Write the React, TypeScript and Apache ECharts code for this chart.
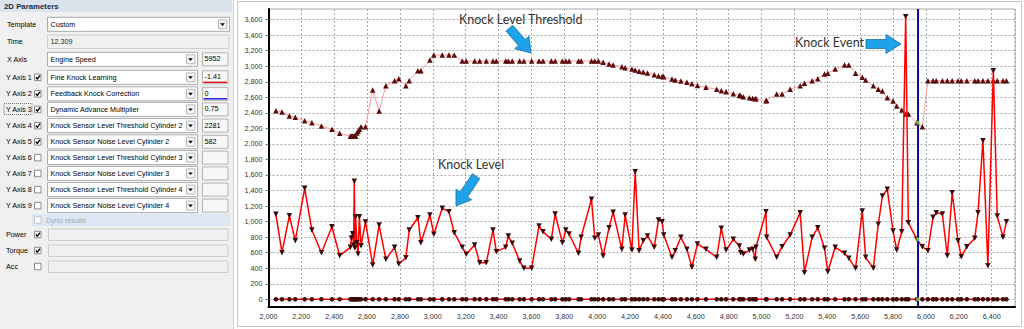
import React, { useEffect, useRef } from 'react';
import * as echarts from 'echarts';

// ---------- chart data (engine speed samples) ----------
const rpm = [2045,2082,2127,2163,2220,2264,2322,2386,2433,2498,
2505,2512,2518,2522,2526,2530,2538,2545,2553,2563,
2590,2634,2673,2714,2767,2793,2836,2856,2909,2927,
2982,3006,3057,3098,3130,3179,3203,3254,3285,3325,
3366,3386,3443,3459,3483,3528,3554,3601,3646,3670,
3721,3744,3788,3809,3829,3886,3902,3965,3985,4007,
4036,4072,4097,4150,4170,4211,4231,4255,4280,4306,
4347,4373,4395,4405,4455,4475,4509,4546,4576,4610,
4662,4727,4755,4784,4828,4865,4873,4889,4926,4946,
4962,4966,5027,5031,5092,5125,5174,5235,5261,5308,
5342,5383,5403,5448,5505,5531,5572,5613,5633,5680,
5710,5735,5765,5800,5822,5853,5877,5893,5945,5978,
6012,6043,6063,6100,6130,6160,6195,6215,6249,6297,
6317,6347,6377,6410,6434,6469,6490];

// Knock Sensor Level Threshold Cylinder 2
const threshold = [2427,2411,2359,2342,2299,2273,2230,2188,2136,2098,
2098,2098,2098,2098,2110,2098,2140,2162,2190,2221,
2221,2694,2423,2749,2814,2839,2749,2814,2942,2942,
3080,3144,3144,3144,3144,3067,3067,3067,3067,3067,
3067,3067,3067,3067,3067,3067,3067,3067,3067,3067,
3067,3067,3067,3067,3067,3067,3067,3067,3067,3067,
3050,3029,3016,2994,2981,2964,2951,2934,2925,2912,
2891,2874,2868,2865,2835,2822,2809,2793,2775,2752,
2728,2703,2685,2672,2646,2625,2620,2607,2595,2588,
2582,2580,2556,2560,2642,2642,2703,2749,2780,2813,
2839,2900,2909,2964,3016,3016,2909,2857,2822,2749,
2703,2680,2595,2552,2488,2436,2385,2385,2273,2221,
2814,2814,2814,2814,2814,2814,2814,2814,2814,2814,
2814,2814,2814,2814,2814,2814,2814];

// Knock Sensor Noise Level Cylinder 2
const noise = [1094,600,1076,754,1429,892,600,934,561,669,
790,845,700,1519,660,1061,728,583,1061,690,
995,441,956,515,669,454,535,892,1050,729,
1085,836,1171,1128,857,669,579,699,471,471,
892,613,669,815,721,493,399,399,943,870,
772,1098,729,892,840,592,798,1287,785,827,
557,922,1120,643,1085,634,1643,626,754,815,
669,1021,999,827,540,626,798,643,412,712,
643,540,913,634,772,686,600,583,634,643,
515,669,1128,798,540,677,827,1115,343,798,
922,656,355,669,592,528,399,1137,540,399,
965,1329,1416,879,634,870,3637,986,772,677,
626,1055,1115,1098,561,1372,754,548,677,785,
1115,2041,433,2942,1072,800,999];

// Feedback Knock Correction (flat at zero)
const knockCorrection = [0,0,0,0,0,0,0,0,0,0,
0,0,0,0,0,0,0,0,0,0, 0,0,0,0,0,0,0,0,0,0, 0,0,0,0,0,0,0,0,0,0,
0,0,0,0,0,0,0,0,0,0, 0,0,0,0,0,0,0,0,0,0, 0,0,0,0,0,0,0,0,0,0,
0,0,0,0,0,0,0,0,0,0, 0,0,0,0,0,0,0,0,0,0, 0,0,0,0,0,0,0,0,0,0,
0,0,0,0,0,0,0,0,0,0, 0,0,0,0,0,0,0,0,0,0, 0,0,0,0,0,0,0,0,0,0,
0,0,0,0,0,0,0];

const cursorRpm = 5952;
const cursorValues = [2273, 772, 0];

// ---------- panel texts ----------
const templateName = 'Custom';
const timeValue = '12.309';
const xAxisName = 'Engine Speed';
const xAxisValue = '5952';
const yAxisNames = [
  'Fine Knock Learning',
  'Feedback Knock Correction',
  'Dynamic Advance Multiplier',
  'Knock Sensor Level Threshold Cylinder 2',
  'Knock Sensor Noise Level Cylinder 2',
  'Knock Sensor Level Threshold Cylinder 3',
  'Knock Sensor Noise Level Cylinder 3',
  'Knock Sensor Level Threshold Cylinder 4',
  'Knock Sensor Noise Level Cylinder 4',
];
const yAxisValues = ['-1.41', '0', '0.75', '2281', '582', '', '', '', ''];
const yAxisChecked = [true, true, true, true, true, false, false, false, false];
const extraRows = ['Power', 'Torque', 'Acc'];
const extraChecked = [true, true, false];
const annotations = ['Knock Level Threshold', 'Knock Level', 'Knock Event'];

// ---------- helpers ----------
const UI_FONT = '7.2px "Liberation Sans", Arial, sans-serif';
const fmt = (v: number) => {
  const s = String(Math.abs(v));
  const r = s.replace(/\B(?=(\d{3})+(?!\d))/g, ',');
  return v < 0 ? '-' + r : r;
};

function txt(x: number, y: number, text: string, fill = '#000', font = UI_FONT, align = 'left', z = 5) {
  return { type: 'text', x, y, z, silent: true, style: { text, fill, font, align, verticalAlign: 'middle', textAlign: align, textVerticalAlign: 'middle' } };
}
function rect(x: number, y: number, w: number, h: number, fill: string, stroke?: string, lw = 1, z = 1, dash?: number[]) {
  return { type: 'rect', z, silent: true, shape: { x, y, width: w, height: h }, style: { fill, stroke: stroke || null, lineWidth: lw, lineDash: dash } };
}
function line(x1: number, y1: number, x2: number, y2: number, stroke: string, lw = 1, z = 2) {
  return { type: 'line', z, silent: true, shape: { x1, y1, x2, y2 }, style: { stroke, lineWidth: lw } };
}
function checkbox(x: number, yc: number, checked: boolean, disabled = false) {
  const els: any[] = [rect(x + 0.5, yc - 3.2, 6.5, 6.5, '#ffffff', disabled ? '#c4c4c4' : '#8a8a8a', 1, 3)];
  if (checked) {
    els.push({ type: 'polyline', z: 4, silent: true, shape: { points: [[x + 1.8, yc], [x + 3.3, yc + 1.7], [x + 6, yc - 1.9]] }, style: { stroke: '#000', lineWidth: 1.3, fill: null } });
  }
  return els;
}
function combo(x1: number, x2: number, yc: number, text: string) {
  const cx = x2 - 6.5;
  return [
    rect(x1 + 0.5, yc - 7, x2 - x1, 14, '#ffffff', '#a9abb0', 1, 2),
    txt(x1 + 3.5, yc, text),
    rect(x2 - 10.5, yc - 4.5, 8.5, 9, '#f4f4f4', '#b8b8b8', 1, 3),
    { type: 'polygon', z: 4, silent: true, shape: { points: [[cx - 2.3, yc - 1], [cx + 2.3, yc - 1], [cx, yc + 1.6]] }, style: { fill: '#000' } },
  ];
}
function valueBox(yc: number, text: string, underline?: string) {
  const els: any[] = [rect(202.5, yc - 6.5, 25.5, 13, '#f7f7f7', '#b4b4b4', 1, 2), txt(204.5, yc - 0.5, text)];
  if (underline) els.push(line(203.5, yc + 5, 227, yc + 5, underline, 1.3, 4));
  return els;
}
function arrow(tx: number, ty: number, angDeg: number, len: number, shaftW: number, headW: number, headL: number) {
  const a = (angDeg * Math.PI) / 180;
  const ux = Math.cos(a), uy = Math.sin(a);
  const px = -uy, py = ux;
  const bx = tx - ux * len, by = ty - uy * len;
  const hx = tx - ux * headL, hy = ty - uy * headL;
  const pts = [
    [bx + (px * shaftW) / 2, by + (py * shaftW) / 2],
    [hx + (px * shaftW) / 2, hy + (py * shaftW) / 2],
    [hx + (px * headW) / 2, hy + (py * headW) / 2],
    [tx, ty],
    [hx - (px * headW) / 2, hy - (py * headW) / 2],
    [hx - (px * shaftW) / 2, hy - (py * shaftW) / 2],
    [bx - (px * shaftW) / 2, by - (py * shaftW) / 2],
  ];
  return { type: 'polygon', z: 20, silent: true, shape: { points: pts }, style: { fill: '#1ea2ea', stroke: '#1a6fa6', lineWidth: 0.8 } };
}

function buildGraphics() {
  const g: any[] = [];
  // panel background
  g.push(rect(0, 0, 233, 329, '#f0f0f0', undefined, 1, 0));
  g.push(line(233.5, 0, 233.5, 329, '#d2d2d2', 1, 1));
  g.push(rect(237.5, 1.5, 784, 325, null as any, '#c6c6c6', 1, 1));
  // title bar
  g.push(rect(0, 0, 232, 12, '#dbe3ed', undefined, 1, 1));
  g.push(txt(4, 6.3, '2D Parameters', '#1b2b45', 'bold 7.8px "Liberation Sans", Arial, sans-serif'));
  // template
  g.push(txt(7, 24.3, 'Template'));
  g.push(...combo(47, 229, 24.3, templateName));
  // time
  g.push(txt(7, 41.8, 'Time'));
  g.push(rect(47.5, 35, 181.5, 13.5, '#f0f0f0', '#cfcfcf', 1, 2));
  g.push(txt(50.5, 41.8, timeValue, '#222'));
  // x axis
  g.push(txt(7, 59.3, 'X Axis'));
  g.push(...combo(47, 197, 59.3, xAxisName));
  g.push(...valueBox(59.3, xAxisValue));
  // y axes
  const rowY = [77.3, 93.8, 109.4, 125.6, 141.8, 157.6, 173.4, 189.6, 205.6];
  const underlines: (string | undefined)[] = ['#e00000', '#0000d8'];
  yAxisNames.forEach((name, i) => {
    const yc = rowY[i];
    g.push(txt(6, yc, 'Y Axis ' + (i + 1)));
    g.push(...checkbox(34, yc, yAxisChecked[i]));
    g.push(...combo(47, 197, yc, name));
    g.push(...valueBox(yc, yAxisValues[i], underlines[i]));
  });
  // focus rect around Y Axis 3
  g.push(rect(4, 103.5, 28, 11, null as any, '#555', 0.8, 6, [1, 1]));
  // dyno results band
  g.push(rect(32, 214, 198, 12, '#dce7f3', undefined, 1, 1));
  g.push(...checkbox(34, 220, false, true));
  g.push(txt(46, 220.2, 'Dyno results', '#a3a9b1'));
  const extraY = [234.5, 250.5, 266.5];
  extraRows.forEach((name, i) => {
    const yc = extraY[i];
    g.push(txt(6, yc, name));
    g.push(...checkbox(34, yc, extraChecked[i]));
    g.push(rect(48.5, yc - 5.5, 179.5, 11.5, '#f0f0f0', '#cdcdcd', 1, 2));
  });
  // annotations
  const AFONT = '12.5px Lato, "Open Sans", sans-serif';
  g.push(txt(459, 19.5, annotations[0], '#333', AFONT, 'left', 20));
  g.push(arrow(531, 53, 49, 33, 9, 19, 14));
  g.push(txt(438, 164, annotations[1], '#333', AFONT, 'left', 20));
  g.push(arrow(456, 206, 124, 36, 9, 19, 14));
  g.push(txt(795, 42, annotations[2], '#333', AFONT, 'left', 20));
  g.push(arrow(901, 44, 0, 35, 9, 19, 15));
  return g;
}

const L = 268.5, W = 746.5;
const XMIN = 2000, XMAX = 6542;

export default function App() {
  const ref = useRef<HTMLDivElement>(null);
  useEffect(() => {
    const chart = echarts.init(ref.current!, null, { renderer: 'svg' });
    const labelFmt = (v: number) => (v % 200 === 0 ? fmt(v) : '');
    const tickFont = { fontSize: 7.2, fontFamily: '"Liberation Sans", Arial, sans-serif', color: '#333' };
    const pairs = (vals: number[]) => rpm.map((r, i) => [r, vals[i]]);
    const option: any = {
      animation: false,
      backgroundColor: '#ffffff',
      grid: [
        { left: L, top: 9, width: W, height: 298, show: true, borderColor: '#a9a9a9', borderWidth: 1, backgroundColor: '#ffffff', z: 0 },
        { left: L, top: 19.6, width: W, height: 279.7, show: false },
      ],
      xAxis: [
        {
          gridIndex: 0, type: 'value', min: XMIN, max: XMAX, interval: 200,
          axisLine: { show: true, onZero: false, lineStyle: { color: '#000', width: 2 } },
          axisTick: { show: false },
          axisLabel: { ...tickFont, margin: 6, formatter: labelFmt, showMaxLabel: false },
          splitLine: { show: true, lineStyle: { color: '#aaaaaa', type: [2, 2], width: 1 } },
        },
        { gridIndex: 1, type: 'value', min: XMIN, max: XMAX, show: false },
      ],
      yAxis: [
        {
          gridIndex: 0, type: 'value', min: 0, max: 1,
          axisLine: { show: true, lineStyle: { color: '#000', width: 2 } },
          axisTick: { show: false }, axisLabel: { show: false }, splitLine: { show: false },
        },
        {
          gridIndex: 1, type: 'value', min: 0, max: 3600, interval: 200,
          axisLine: { show: false },
          axisTick: { show: true, length: 3, lineStyle: { color: '#777' } },
          axisLabel: { ...tickFont, margin: 6, formatter: labelFmt },
          splitLine: { show: true, lineStyle: { color: '#aaaaaa', type: [2, 2], width: 1 } },
        },
      ],
      graphic: buildGraphics(),
      series: [
        {
          name: 'Feedback Knock Correction', type: 'line', xAxisIndex: 1, yAxisIndex: 1,
          data: pairs(knockCorrection), clip: false, silent: true, z: 3,
          symbol: 'circle', symbolSize: 4.5,
          lineStyle: { color: '#ff0000', width: 1.5 }, itemStyle: { color: '#3b0b0b' },
        },
        {
          name: 'Knock Sensor Level Threshold Cylinder 2', type: 'line', xAxisIndex: 1, yAxisIndex: 1,
          data: pairs(threshold), clip: false, silent: true, z: 4,
          symbol: 'triangle', symbolSize: 5.5,
          lineStyle: { color: '#ff9a9a', width: 1 }, itemStyle: { color: '#5a0b0b' },
        },
        {
          name: 'Knock Sensor Noise Level Cylinder 2', type: 'line', xAxisIndex: 1, yAxisIndex: 1,
          data: pairs(noise), clip: false, silent: true, z: 5,
          symbol: 'triangle', symbolRotate: 180, symbolSize: 5.5,
          lineStyle: { color: '#ff0000', width: 1.5 }, itemStyle: { color: '#3b0b0b' },
        },
        {
          name: 'cursor', type: 'line', xAxisIndex: 0, yAxisIndex: 0,
          data: [[cursorRpm, 0], [cursorRpm, 1]], silent: true, z: 8, symbol: 'none',
          lineStyle: { color: '#0a0a96', width: 2 },
        },
        {
          name: 'cursor points', type: 'scatter', xAxisIndex: 1, yAxisIndex: 1,
          data: cursorValues.map((v) => [cursorRpm, v]), silent: true, z: 9, clip: false,
          symbol: 'rect', symbolSize: 3.5, itemStyle: { color: '#9be04a' },
        },
      ],
    };
    chart.setOption(option);
    return () => chart.dispose();
  }, []);
  return <div ref={ref} style={{ position: 'absolute', left: 0, top: 0, width: 1024, height: 329 }} />;
}
